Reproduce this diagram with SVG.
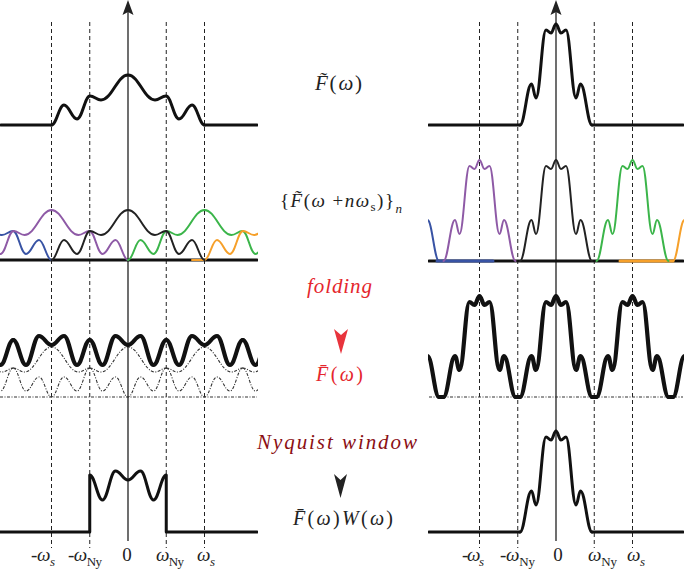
<svg xmlns="http://www.w3.org/2000/svg" xmlns:xlink="http://www.w3.org/1999/xlink" width="685" height="573" viewBox="0 0 685 573">
<style>
.ax{stroke:#222;stroke-width:1.3;fill:none}
.dash{stroke:#222;stroke-width:1;stroke-dasharray:4 3;fill:none}
.dd{stroke:#333;stroke-width:1.1;stroke-dasharray:3 1.5 1 1.5;fill:none}
.c{fill:none;stroke-linejoin:round;stroke-linecap:round}
.t3{stroke:#111;stroke-width:3}
.t4{stroke:#111;stroke-width:4.2}
.thin{stroke-width:2}
.blue{stroke:#3853a4}.purple{stroke:#8e5aa6}.green{stroke:#3bb54a}.orange{stroke:#f6a02a}.blk{stroke:#222}
text{font-family:"Liberation Serif",serif;fill:#222}
.i{font-style:italic}
.sub{font-size:13px}
.red{fill:#e5262d}
</style>
<defs>
<path id="gL" d="M-76.5,0 C-71.5,0 -69,-20 -64,-20 C-58.8,-20 -56.2,-6 -51,-6 C-45.8,-6 -43.2,-29 -38,-29 C-33.6,-29 -31.4,-25 -27,-25 C-16.2,-25 -10.8,-50 0,-50 C10.8,-50 16.2,-25 27,-25 C31.4,-25 33.6,-29 38,-29 C43.2,-29 45.8,-6 51,-6 C56.2,-6 58.8,-20 64,-20 C69,-20 71.5,0 76.5,0"/>
<path id="gR" d="M-36,0 C-31.4,0 -29.1,-41 -24.5,-41 C-22.7,-41 -21.8,-27 -20,-27 C-16,-27 -14,-95 -10,-95 C-8,-95 -7,-92 -5,-92 C-3,-92 -2,-101 0,-101 C2,-101 3,-92 5,-92 C7,-92 8,-95 10,-95 C14,-95 16,-27 20,-27 C21.8,-27 22.7,-41 24.5,-41 C29.1,-41 31.4,0 36,0"/>
<path id="upL" d="M-38.25,-29 C-33.75,-29 -31.5,-25 -27,-25 C-16.2,-25 -10.8,-50 0,-50 C10.8,-50 16.2,-25 27,-25 C31.5,-25 33.75,-29 38.25,-29"/>
<path id="loL" d="M-38.25,-29 C-33.15,-29 -30.6,-6 -25.5,-6 C-20.3,-6 -17.7,-20 -12.5,-20 C-7.5,-20 -5,0 0,0 C5,0 7.5,-20 12.5,-20 C17.7,-20 20.3,-6 25.5,-6 C30.6,-6 33.15,-29 38.25,-29"/>
<path id="sumL" d="M-38.25,-57 C-33.15,-57 -30.6,-32 -25.5,-32 C-20.3,-32 -17.7,-61 -12.5,-61 C-7.5,-61 -5,-52 0,-52 C5,-52 7.5,-61 12.5,-61 C17.7,-61 20.3,-32 25.5,-32 C30.6,-32 33.15,-57 38.25,-57"/>
<clipPath id="clipL"><rect x="0" y="0" width="258" height="573"/></clipPath>
<clipPath id="clipR"><rect x="428" y="0" width="256" height="573"/></clipPath>
</defs>

<g id="guides">
<path class="dash" d="M51.5,22V548M89.75,22V548M166.25,22V548M204.5,22V548M479.5,22V548M517.75,22V548M594.25,22V548M632.5,22V548"/>
</g>

<g id="axes">
<path class="ax" d="M128,12V541M556,12V541"/>
<path fill="#222" d="M128,0L133.5,15L128,12L122.5,15Z M556,0L561.5,15L556,12L550.5,15Z"/>
</g>

<g id="connectors">
<path fill="#e8343c" d="M334,329L341,335L348,329L341,354Z"/>
<path fill="#222" d="M334,474L340.5,480L347,474L340.5,498Z"/>
</g>

<g id="left-panel" clip-path="url(#clipL)">
<g id="left-row1">
<path class="c t3" d="M1,125H51.5"/>
<use xlink:href="#gL" href="#gL" class="c t3" transform="translate(128,125)"/>
<path class="c t3" d="M204.5,125H257"/>
</g>
<g id="left-row2">
<path class="c t3" d="M0,260H257"/>
<use href="#gL" xlink:href="#gL" class="c thin blue" transform="translate(-25,260)"/>
<use href="#gL" xlink:href="#gL" class="c thin purple" transform="translate(51.5,260)"/>
<use href="#gL" xlink:href="#gL" class="c thin green" transform="translate(204.5,260)"/>
<path class="c thin orange" d="M192,260H204.5"/>
<use href="#gL" xlink:href="#gL" class="c thin orange" transform="translate(281,260)"/>
<use href="#gL" xlink:href="#gL" class="c thin blk" transform="translate(128,260)"/>
</g>
<g id="left-row3">
<path class="dd" d="M0,397H257"/>
<use href="#upL" xlink:href="#upL" class="dd" transform="translate(-25,397)"/>
<use href="#upL" xlink:href="#upL" class="dd" transform="translate(51.5,397)"/>
<use href="#upL" xlink:href="#upL" class="dd" transform="translate(128,397)"/>
<use href="#upL" xlink:href="#upL" class="dd" transform="translate(204.5,397)"/>
<use href="#upL" xlink:href="#upL" class="dd" transform="translate(281,397)"/>
<use href="#loL" xlink:href="#loL" class="dd" transform="translate(-25,397)"/>
<use href="#loL" xlink:href="#loL" class="dd" transform="translate(51.5,397)"/>
<use href="#loL" xlink:href="#loL" class="dd" transform="translate(128,397)"/>
<use href="#loL" xlink:href="#loL" class="dd" transform="translate(204.5,397)"/>
<use href="#loL" xlink:href="#loL" class="dd" transform="translate(281,397)"/>
<use href="#sumL" xlink:href="#sumL" class="c t4" transform="translate(-25,397)"/>
<use href="#sumL" xlink:href="#sumL" class="c t4" transform="translate(51.5,397)"/>
<use href="#sumL" xlink:href="#sumL" class="c t4" transform="translate(128,397)"/>
<use href="#sumL" xlink:href="#sumL" class="c t4" transform="translate(204.5,397)"/>
<use href="#sumL" xlink:href="#sumL" class="c t4" transform="translate(281,397)"/>
</g>
<g id="left-row4">
<path class="c t3" d="M0,532H89.75V475C94.85,475 97.4,500 102.5,500C107.7,500 110.3,471 115.5,471C120.5,471 123,480 128,480C133,480 135.5,471 140.5,471C145.7,471 148.3,500 153.5,500C158.6,500 161.15,475 166.25,475V532H257"/>
</g>
</g>

<g id="right-panel" clip-path="url(#clipR)">
<g id="right-row1">
<path class="c t3" d="M429,125H520M592,125H683"/>
<use href="#gR" xlink:href="#gR" class="c t3" transform="translate(556,125)"/>
</g>
<g id="right-row2">
<path class="c t3" d="M429,261H683"/>
<path class="c t3 blue" d="M437,261H493"/>
<path class="c t3 orange" d="M620,261H673"/>
<use href="#gR" xlink:href="#gR" class="c thin blue" transform="translate(403,261)"/>
<use href="#gR" xlink:href="#gR" class="c thin purple" transform="translate(479.5,261)"/>
<use href="#gR" xlink:href="#gR" class="c thin green" transform="translate(632.5,261)"/>
<use href="#gR" xlink:href="#gR" class="c thin orange" transform="translate(709,261)"/>
<use href="#gR" xlink:href="#gR" class="c thin blk" transform="translate(556,261)"/>
</g>
<g id="right-row3">
<path class="dd" d="M429,397H683"/>
<path class="c t4" d="M439,397H443.5M515.5,397H520M592,397H596.5M668.5,397H673"/>
<use href="#gR" xlink:href="#gR" class="c t4" transform="translate(403,397)"/>
<use href="#gR" xlink:href="#gR" class="c t4" transform="translate(479.5,397)"/>
<use href="#gR" xlink:href="#gR" class="c t4" transform="translate(556,397)"/>
<use href="#gR" xlink:href="#gR" class="c t4" transform="translate(632.5,397)"/>
<use href="#gR" xlink:href="#gR" class="c t4" transform="translate(709,397)"/>
</g>
<g id="right-row4">
<path class="c t3" d="M429,532H520M592,532H683"/>
<use href="#gR" xlink:href="#gR" class="c t3" transform="translate(556,532)"/>
</g>
</g>

<g id="label-F">
<text x="315" y="90" font-size="21" textLength="47" lengthAdjust="spacing"><tspan class="i">F̃</tspan>(<tspan class="i">ω</tspan>)</text>
</g>
<g id="label-replicas">
<text x="280" y="207" font-size="19" textLength="122" lengthAdjust="spacing">{<tspan class="i">F̃</tspan>(<tspan class="i">ω</tspan> +<tspan class="i">nω</tspan><tspan class="sub" dy="4">s</tspan><tspan dy="-4">)}</tspan><tspan class="sub i" dy="6">n</tspan></text>
</g>
<g id="label-folding">
<text x="307" y="293" font-size="21" class="i red" textLength="65" lengthAdjust="spacing">folding</text>
</g>
<g id="label-Fbar">
<text x="316" y="381" font-size="20" class="red" textLength="47" lengthAdjust="spacing"><tspan class="i">F̄</tspan>(<tspan class="i">ω</tspan>)</text>
</g>
<g id="label-nyquist">
<text x="257" y="449" font-size="21" class="i" style="fill:#8b0f14" textLength="160" lengthAdjust="spacing">Nyquist window</text>
</g>
<g id="label-FW">
<text x="293" y="525" font-size="20" textLength="100" lengthAdjust="spacing"><tspan class="i">F̄</tspan>(<tspan class="i">ω</tspan>)<tspan class="i">W</tspan>(<tspan class="i">ω</tspan>)</text>
</g>
<g id="axis-labels">
<text x="31" y="561" font-size="19" textLength="24" lengthAdjust="spacing">-<tspan class="i">ω</tspan><tspan class="sub i" dy="5">s</tspan></text>
<text x="68" y="561" font-size="19" textLength="34" lengthAdjust="spacing">-<tspan class="i">ω</tspan><tspan class="sub" dy="5">Ny</tspan></text>
<text x="127" y="561" font-size="19" text-anchor="middle">0</text>
<text x="156" y="561" font-size="19" textLength="28" lengthAdjust="spacing"><tspan class="i">ω</tspan><tspan class="sub" dy="5">Ny</tspan></text>
<text x="197" y="561" font-size="19" textLength="18" lengthAdjust="spacing"><tspan class="i">ω</tspan><tspan class="sub i" dy="5">s</tspan></text>
<text x="462" y="561" font-size="19" textLength="22" lengthAdjust="spacing">-<tspan class="i">ω</tspan><tspan class="sub i" dy="5">s</tspan></text>
<text x="500" y="561" font-size="19" textLength="35" lengthAdjust="spacing">-<tspan class="i">ω</tspan><tspan class="sub" dy="5">Ny</tspan></text>
<text x="558" y="561" font-size="19" text-anchor="middle">0</text>
<text x="588" y="561" font-size="19" textLength="29" lengthAdjust="spacing"><tspan class="i">ω</tspan><tspan class="sub" dy="5">Ny</tspan></text>
<text x="627" y="561" font-size="19" textLength="18" lengthAdjust="spacing"><tspan class="i">ω</tspan><tspan class="sub i" dy="5">s</tspan></text>
</g>
</svg>
